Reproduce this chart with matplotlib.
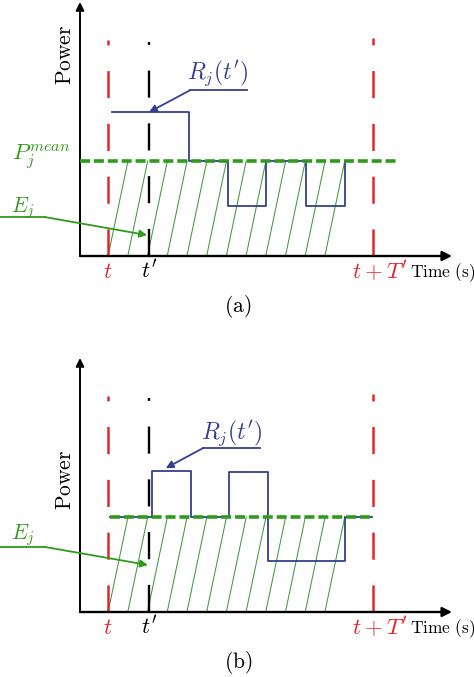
import matplotlib
matplotlib.use("Agg")
import matplotlib.pyplot as plt
import numpy as np

plt.rcParams['mathtext.fontset'] = 'cm'
plt.rcParams['lines.scale_dashes'] = False

# time marks (arbitrary units) and power levels
t_start = 0.72
t_prime = 1.77
t_end = 7.51
p_mean = 2.0

# panel (a): step signal R_j(t')
a_edges = [0.82, 2.79, 3.79, 4.77, 5.79, 6.79, 6.79]
a_levels = [3.03, 2.0, 1.05, 2.0, 1.05, 2.0]
a_mean_span = [0.0, 8.13]

# panel (b)
b_edges = [0.77, 1.85, 2.85, 3.82, 4.82, 6.79, 7.49]
b_levels = [2.0, 2.97, 2.0, 2.95, 1.07, 2.0]
b_mean_span = [0.77, 7.49]

red = '#e3262b'
blue = '#34408f'
green = '#2f9a1c'
hatch_green = '#3f9a3f'

XMAX, YMAX = 9.54, 5.35


def step_xy(edges, levels):
    e = np.asarray(edges)
    x = np.repeat(e, 2)[1:-1]
    y = np.repeat(levels, 2)
    return x, y


def panel(ax, edges, levels, mean_span, letter, rj_text, rj_line, rj_tip, ej_text, ej_line, ej_tip, power_y):
    ax.set_xlim(0, XMAX)
    ax.set_ylim(0, YMAX)
    ax.axis('off')

    # axes with arrows
    ax.annotate('', xy=(XMAX, 0), xytext=(0, 0), annotation_clip=False,
                arrowprops=dict(arrowstyle='-|>', color='black', lw=1.7,
                                mutation_scale=14, shrinkA=0, shrinkB=0))
    ax.annotate('', xy=(0, YMAX), xytext=(0, 0), annotation_clip=False,
                arrowprops=dict(arrowstyle='-|>', color='black', lw=1.4,
                                mutation_scale=12, shrinkA=0, shrinkB=0))

    # hatched energy region
    slant = 0.51
    bottoms = np.linspace(t_start, edges[-2] - slant, 12)
    for b in bottoms:
        ax.plot([b, b + slant], [0, p_mean], color=hatch_green, lw=0.75, zorder=1)

    # vertical dashed markers
    ax.plot([t_start, t_start], [0, 4.55], color=red, lw=1.8, dashes=(19.5, 18.5), zorder=2)
    ax.plot([t_end, t_end], [0, 4.6], color=red, lw=1.8, dashes=(19.5, 18.5), zorder=2)
    ax.plot([t_prime, t_prime], [0, 4.5], color='black', lw=1.7, dashes=(19.5, 18.5), zorder=2)

    # step signal and mean
    x, y = step_xy(edges, levels)
    ax.plot(x, y, color=blue, lw=1.3, zorder=3)
    ax.plot(mean_span, [p_mean, p_mean], color=green, lw=2.6, dashes=(7.2, 2.8), zorder=4)

    # R_j(t') callout
    ax.text(rj_text[0], rj_text[1], r'$R_j(t^{\prime})$', color=blue, fontsize=17,
            ha='left', va='baseline')
    ax.plot(rj_line[0], rj_line[1], color=blue, lw=1.3, clip_on=False)
    ax.annotate('', xy=rj_tip, xytext=(rj_line[0][0], rj_line[1][0]), annotation_clip=False,
                arrowprops=dict(arrowstyle='-|>', color=blue, lw=1.3,
                                mutation_scale=11, shrinkA=0, shrinkB=0))

    # E_j callout
    ax.text(ej_text[0], ej_text[1], r'$E_j$', color=green, fontsize=15.5,
            ha='left', va='baseline')
    ax.plot(ej_line[0], ej_line[1], color=green, lw=1.3, clip_on=False)
    ax.annotate('', xy=ej_tip, xytext=(ej_line[0][1], ej_line[1][1]), annotation_clip=False,
                arrowprops=dict(arrowstyle='-|>', color=green, lw=1.3,
                                mutation_scale=11, shrinkA=0, shrinkB=0))

    # labels
    ax.text(-0.38, power_y, r'$\mathrm{Power}$', rotation=90, fontsize=15.5,
            ha='center', va='center')
    ax.text(t_start, -0.33, r'$t$', color=red, fontsize=16.5, ha='center', va='center')
    ax.text(t_prime, -0.31, r'$t^{\prime}$', color='black', fontsize=16.5, ha='center', va='center')
    ax.text(7.69, -0.33, r'$t+T^{\prime}$', color=red, fontsize=16.5, ha='center', va='center')
    ax.text(8.46, -0.36, r'$\mathrm{Time\ (s)}$', fontsize=12.5, ha='left', va='center')
    ax.text(4.05, -1.06, r'$\mathrm{(%s)}$' % letter, fontsize=15.5, ha='center', va='center')


fig = plt.figure(figsize=(4.74, 6.77), dpi=100)
W, H = 474, 677
ax_a = fig.add_axes([80 / W, (H - 256) / H, 372 / W, 254 / H])
ax_b = fig.add_axes([80 / W, (H - 612) / H, 372 / W, 254 / H])

panel(ax_a, a_edges, a_levels, a_mean_span, 'a',
      rj_text=(2.74, 3.72), rj_line=([2.82, 4.28], [3.49, 3.49]), rj_tip=(1.77, 3.03),
      ej_text=(-1.76, 0.93), ej_line=([-2.05, -0.9], [0.82, 0.82]), ej_tip=(1.72, 0.44),
      power_y=4.23)
ax_a.text(-1.74, 2.02, r'$P_j^{mean}$', color=green, fontsize=16.5, ha='left', va='baseline')

panel(ax_b, b_edges, b_levels, b_mean_span, 'b',
      rj_text=(3.1, 3.65), rj_line=([3.15, 4.62], [3.45, 3.45]), rj_tip=(2.2, 3.03),
      ej_text=(-1.76, 1.54), ej_line=([-2.05, -0.9], [1.37, 1.37]), ej_tip=(1.74, 0.99),
      power_y=2.78)

fig.savefig('out.png', dpi=100)
